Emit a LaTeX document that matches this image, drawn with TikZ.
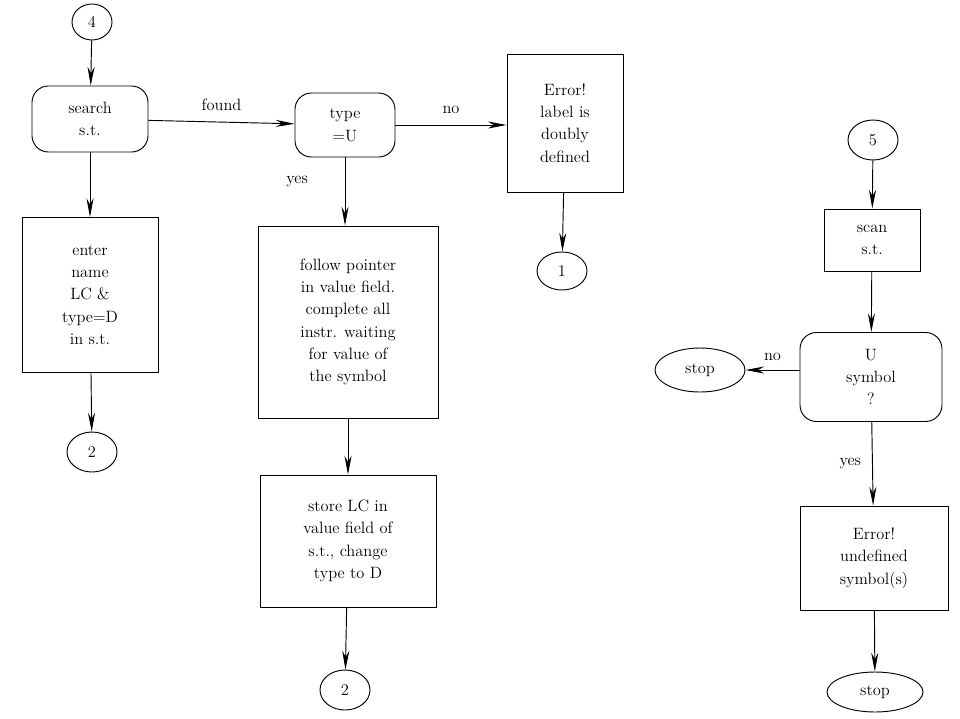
\documentclass[tikz,border=0pt]{standalone}
\usetikzlibrary{arrows.meta,shapes.geometric}
\tikzset{
  box/.style={draw,thick,align=center,inner sep=1pt},
  rbox/.style={box,rounded corners=14pt},
  conn/.style={draw,thick,ellipse,inner sep=0pt},
  flow/.style={thick,-{Stealth[length=16pt,width=6pt]}},
  lbl/.style={font=\fontsize{14}{18}\selectfont}
}
\begin{document}
\begin{tikzpicture}[x=0.03cm,y=-0.03cm,font=\fontsize{14}{19}\selectfont]
\useasboundingbox (0,0) rectangle (960,718);
% left column
\node[conn,minimum width=40*0.03cm,minimum height=36*0.03cm] (four) at (92,22) {4};
\node[rbox,minimum width=116*0.03cm,minimum height=66*0.03cm] (search) at (90,119) {search\\s.t.};
\node[box,minimum width=136*0.03cm,minimum height=155*0.03cm] (enter) at (90,295) {enter\\name\\LC \&\\type=D\\in s.t.};
\node[conn,minimum width=50*0.03cm,minimum height=40*0.03cm] (twoa) at (92,452) {2};
% middle column
\node[rbox,minimum width=100*0.03cm,minimum height=64*0.03cm] (type) at (345,125) {type\\=U};
\node[box,minimum width=116*0.03cm,minimum height=138*0.03cm] (dbl) at (565,123) {Error!\\label is\\doubly\\defined};
\node[conn,minimum width=50*0.03cm,minimum height=38*0.03cm] (one) at (562,271) {1};
\node[box,minimum width=180*0.03cm,minimum height=192*0.03cm] (follow) at (348,322) {follow pointer\\in value field.\\complete all\\instr. waiting\\for value of\\the symbol};
\node[box,minimum width=176*0.03cm,minimum height=132*0.03cm] (store) at (348,541) {store LC in\\value field of\\s.t., change\\type to D};
\node[conn,minimum width=50*0.03cm,minimum height=40*0.03cm] (twob) at (345,690) {2};
% right column
\node[conn,minimum width=50*0.03cm,minimum height=40*0.03cm] (five) at (873,140) {5};
\node[box,minimum width=96*0.03cm,minimum height=62*0.03cm] (scan) at (872,240) {scan\\s.t.};
\node[rbox,minimum width=142*0.03cm,minimum height=89*0.03cm] (usym) at (871,377) {U\\symbol\\?};
\node[conn,minimum width=90*0.03cm,minimum height=44*0.03cm] (stopa) at (700,370) {stop};
\node[box,minimum width=148*0.03cm,minimum height=104*0.03cm] (undef) at (874,558) {Error!\\undefined\\symbol(s)};
\node[conn,minimum width=96*0.03cm,minimum height=40*0.03cm] (stopb) at (875,692) {stop};
% connectors
\draw[flow] (four) -- (search);
\draw[flow] (search) -- (enter);
\draw[flow] (enter) -- (twoa);
\draw[flow] (search) -- node[lbl,above=6pt] {found} (type);
\draw[flow] (type) -- node[lbl,above=6pt] {no} (type.east -| dbl.west);
\draw[flow] (dbl) -- (one);
\draw[flow] (type) -- node[lbl,left=28pt,pos=0.35] {yes} (type.south |- follow.north);
\draw[flow] (follow) -- (store);
\draw[flow] (store) -- (twob);
\draw[flow] (five) -- (scan);
\draw[flow] (scan) -- (usym);
\draw[flow] (usym.west |- stopa) -- node[lbl,above=4pt] {no} (stopa);
\draw[flow] (usym) -- node[lbl,left=6pt] {yes} (undef);
\draw[flow] (undef) -- (stopb);
\end{tikzpicture}
\end{document}
